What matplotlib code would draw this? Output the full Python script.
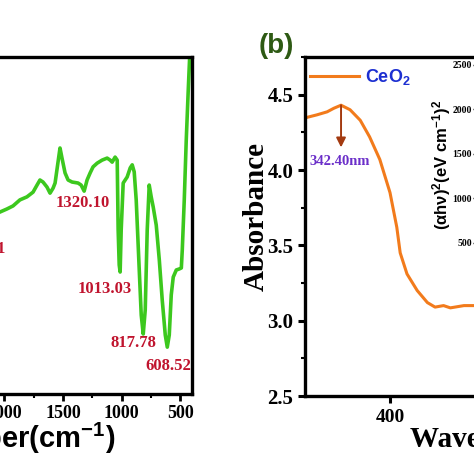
import numpy as np
import matplotlib
matplotlib.use("Agg")
import matplotlib.pyplot as plt
from matplotlib.ticker import MultipleLocator

plt.rcParams['font.family'] = ['Liberation Serif', 'DejaVu Serif']
plt.rcParams['font.weight'] = 'bold'
plt.rcParams['axes.labelweight'] = 'bold'
plt.rcParams['mathtext.fontset'] = 'custom'
plt.rcParams['mathtext.rm'] = 'Liberation Sans'
plt.rcParams['mathtext.bf'] = 'Liberation Sans:bold'
plt.rcParams['mathtext.it'] = 'Liberation Sans:italic'

# --- FTIR spectrum (panel a) ---
ftir_wn = [4000, 3400, 3000, 2400, 2100, 2038, 1979, 1927, 1868, 1808, 1756, 1722,
           1697, 1671, 1637, 1611, 1585, 1568, 1543, 1526, 1509, 1483, 1457, 1423,
           1372, 1346, 1320, 1295, 1269, 1244, 1209, 1167, 1124, 1098, 1081, 1056,
           1038, 1030, 1021, 1013, 1004, 987, 953, 927, 910, 893, 876, 850, 833,
           816, 799, 782, 765, 748, 731, 705, 679, 654, 628, 611, 594, 577, 560,
           534, 509, 491, 483, 466, 449, 432, 415]
ftir_t = [80, 60, 62, 55, 53, 54.0, 54.9, 55.8, 57.6, 58.5, 59.9, 62.0,
          63.5, 62.9, 61.4, 59.6, 61.1, 62.6, 68.8, 73.0, 70.0, 65.6, 63.5, 62.9,
          62.6, 62.0, 60.2, 63.5, 65.6, 67.4, 68.5, 69.4, 70.0, 69.4, 68.8, 70.3,
          69.4, 48.7, 38.3, 36.2, 48.7, 62.6, 64.4, 67.1, 68.0, 65.9, 57.6, 36.8, 23.4,
          17.8, 24.9, 48.7, 62.0, 58.5, 55.5, 50.1, 39.8, 27.9, 17.5, 13.9, 17.5, 29.4, 34.7,
          36.8, 37.1, 37.4, 42.7, 57.6, 75.4, 90.2, 104]
ftir_labels = ["2361.41", "1320.10", "1013.03", "817.78", "608.52"]
ftir_label_pos = [(1987, 43.0), (1329, 56.7), (1145, 31.2), (902, 15.1), (603, 8.3)]

# --- UV-Vis spectrum (panel b) ---
uv_wl = [300, 314, 326, 334, 342.4, 353, 365, 376, 388, 400, 408, 412, 420, 432,
         444, 453, 463, 471, 487, 499, 550, 600, 650, 700, 750, 800]
uv_abs = [4.346, 4.366, 4.386, 4.41, 4.43, 4.40, 4.33, 4.22, 4.07, 3.85, 3.62, 3.45,
          3.31, 3.20, 3.12, 3.09, 3.10, 3.085, 3.10, 3.10, 3.10, 3.11, 3.10, 3.11, 3.10, 3.10]
peak_wl = 342.4
peak_abs = 4.43
inset_ticks = [500, 1000, 1500, 2000, 2500]

W = 474.0
fig = plt.figure(figsize=(4.74, 4.74), dpi=100)

green = '#3cc81e'
red = '#c0142e'
orange = '#f27b1c'

# panel (a), mostly cropped on the left
ax1 = fig.add_axes([-230 / W, (W - 394) / W, 422 / W, 337 / W])
ax1.plot(ftir_wn, ftir_t, color=green, lw=2.6)
ax1.set_xlim(4000, 400)
ax1.set_ylim(0, 100)
ax1.xaxis.set_major_locator(MultipleLocator(500))
ax1.xaxis.set_minor_locator(MultipleLocator(250))
ax1.set_yticks([])
ax1.tick_params(axis='x', which='major', direction='out', length=5, width=2,
                labelsize=13, pad=3)
ax1.tick_params(axis='x', which='minor', direction='out', length=3, width=1.5)
for s in ax1.spines.values():
    s.set_linewidth(2.4)
ax1.set_xlabel(r'Wavenumber(cm$^{\mathbf{-1}}$)', family='Liberation Sans',
               fontsize=21, labelpad=-1)
for txt, (xx, yy) in zip(ftir_labels, ftir_label_pos):
    ha = 'right' if txt == ftir_labels[0] else 'center'
    ax1.text(xx, yy, txt, color=red, fontsize=12, ha=ha, va='center', clip_on=False)

# panel (b)
ax2 = fig.add_axes([305 / W, (W - 396) / W, 425 / W, 339 / W])
ax2.plot(uv_wl, uv_abs, color=orange, lw=2.2, label=r'$\mathbf{CeO_2}$')
ax2.set_xlim(300, 800)
ax2.set_ylim(2.5, 4.75)
ax2.set_xticks([400, 600, 800])
ax2.yaxis.set_major_locator(MultipleLocator(0.5))
ax2.yaxis.set_minor_locator(MultipleLocator(0.25))
ax2.tick_params(axis='both', which='major', direction='out', length=5, width=2.2)
ax2.tick_params(axis='y', which='minor', direction='out', length=3, width=1.5)
ax2.tick_params(axis='y', labelsize=15)
ax2.tick_params(axis='x', labelsize=14, pad=4)
for s in ax2.spines.values():
    s.set_linewidth(2.4)
ax2.set_ylabel('Absorbance', fontsize=21)
ax2.yaxis.set_label_coords(-0.084, 0.53)
ax2.set_xlabel('Wavelength (nm)', fontsize=21, labelpad=0)
leg = ax2.legend(loc='upper left', bbox_to_anchor=(0, 0.983), frameon=False,
                 handlelength=2.75, handletextpad=0.3,
                 borderaxespad=0.0, borderpad=0.25, fontsize=13)
for t in leg.get_texts():
    t.set_color('#1c2fd1')
ax2.annotate('', xy=(peak_wl, 4.15), xytext=(peak_wl, peak_abs),
             arrowprops=dict(arrowstyle='-|>', color='#a33a10', lw=1.4,
                             mutation_scale=14, shrinkA=0, shrinkB=0))
ax2.text(341, 4.055, '342.40nm', color='#6b2fc9', fontsize=10.5,
         ha='center', va='center')

fig.text(276 / W, (W - 46) / W, '(b)', color='#2e5a14', fontsize=20,
         family='Liberation Sans', ha='center', va='center')

# inset (Tauc plot), cropped on the right
ax3 = fig.add_axes([476 / W, (W - 287.5) / W, 0.3, 227 / W])
ax3.set_ylim(0, 2550)
ax3.set_yticks(inset_ticks)
ax3.set_xticks([])
ax3.tick_params(axis='y', direction='out', length=2, width=1, labelsize=7, pad=1)
ax3.set_ylabel(r'$\mathrm{(\alpha h\nu)^2(eV\ cm^{-1})^2}$', fontsize=12, labelpad=0)
ax3.yaxis.set_label_coords(-0.165, 0.54)

fig.savefig('out.png', dpi=100)
